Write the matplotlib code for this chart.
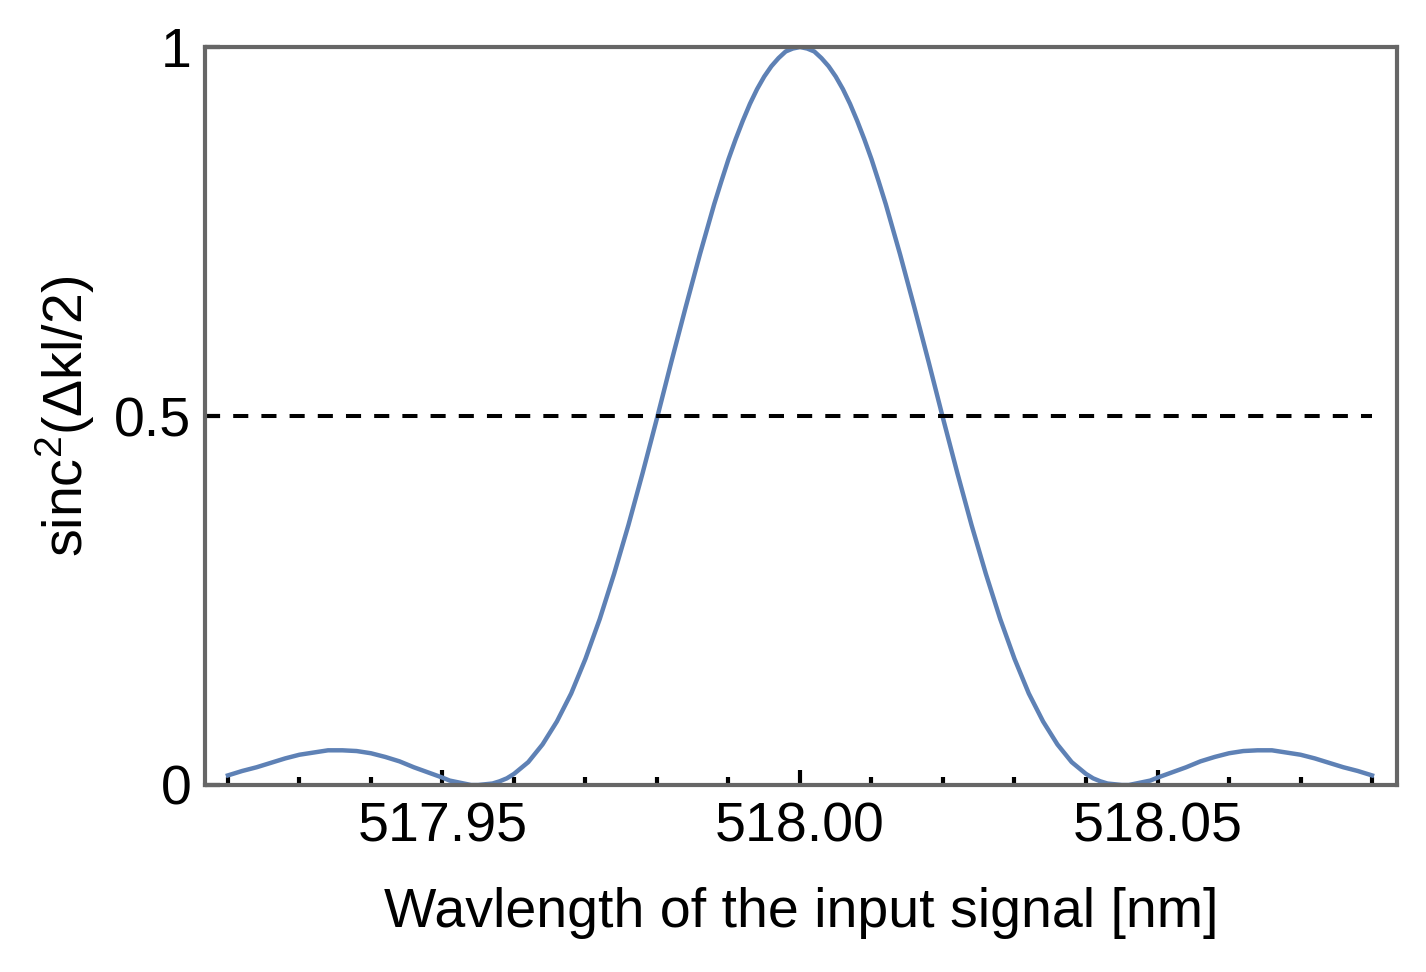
import matplotlib
matplotlib.use("Agg")
import matplotlib.pyplot as plt
from matplotlib.ticker import MultipleLocator

plt.rcParams['font.family'] = ['Liberation Sans', 'DejaVu Sans']
plt.rcParams['mathtext.default'] = 'regular'

# wavelength samples [nm] and curve values
wavelength = [517.920, 517.922, 517.924, 517.926, 517.928, 517.930, 517.932, 517.934,
              517.936, 517.938, 517.940, 517.942, 517.944, 517.946, 517.948, 517.950,
              517.951, 517.952, 517.953, 517.954, 517.955, 517.956, 517.957, 517.958,
              517.959, 517.960, 517.962, 517.964, 517.966, 517.968, 517.970, 517.972,
              517.974, 517.976, 517.978, 517.980, 517.982, 517.984, 517.986, 517.988,
              517.989, 517.990, 517.991, 517.992, 517.993, 517.994, 517.995, 517.996,
              517.997, 517.998, 517.999, 518.000,
              518.001, 518.002, 518.003, 518.004, 518.005, 518.006, 518.007, 518.008,
              518.009, 518.010, 518.011, 518.012, 518.014, 518.016, 518.018, 518.020,
              518.022, 518.024, 518.026, 518.028, 518.030, 518.032, 518.034, 518.036,
              518.038, 518.040, 518.041, 518.042, 518.043, 518.044, 518.045, 518.046,
              518.047, 518.048, 518.049, 518.050, 518.052, 518.054, 518.056, 518.058,
              518.060, 518.062, 518.064, 518.066, 518.068, 518.070, 518.072, 518.074,
              518.076, 518.078, 518.080]
sinc2 = [0.013, 0.019, 0.024, 0.030, 0.036, 0.041, 0.044, 0.047,
         0.047, 0.046, 0.043, 0.038, 0.032, 0.024, 0.017, 0.010,
         0.006, 0.004, 0.002, 0.000, 0.000, 0.001, 0.002, 0.005,
         0.009, 0.015, 0.031, 0.055, 0.086, 0.124, 0.171, 0.225,
         0.286, 0.352, 0.423, 0.497, 0.573, 0.647, 0.719, 0.787,
         0.818, 0.848, 0.875, 0.900, 0.923, 0.943, 0.960, 0.974,
         0.985, 0.994, 0.998, 1.000,
         0.998, 0.994, 0.985, 0.974, 0.960, 0.943, 0.923, 0.900,
         0.875, 0.848, 0.818, 0.787, 0.719, 0.647, 0.573, 0.497,
         0.423, 0.352, 0.286, 0.225, 0.171, 0.124, 0.086, 0.055,
         0.031, 0.015, 0.009, 0.005, 0.002, 0.001, 0.000, 0.000,
         0.002, 0.004, 0.006, 0.010, 0.017, 0.024, 0.032, 0.038,
         0.043, 0.046, 0.047, 0.047, 0.044, 0.041, 0.036, 0.030,
         0.024, 0.019, 0.013]
half_level = 0.5
x_ticks = [517.95, 518.00, 518.05]
x_labels = ["517.95", "518.00", "518.05"]
y_ticks = [0, 0.5, 1]
y_labels = ["0", "0.5", "1"]

fig = plt.figure(figsize=(14.26, 9.72), dpi=100)
ax = fig.add_axes([0.1438, 0.1924, 0.8359, 0.7592])

ax.plot(wavelength, sinc2, color="#5E81B5", lw=3.2, zorder=2)
ax.plot([517.9168, wavelength[-1]], [half_level, half_level], color="black",
        lw=2.9, dashes=(3.75, 3.25), zorder=3)

ax.set_xlim(517.9168, 518.0835)
ax.set_ylim(0, 1)

ax.set_xticks(x_ticks)
ax.set_xticklabels(x_labels)
ax.xaxis.set_minor_locator(MultipleLocator(0.01))
ax.set_yticks(y_ticks)
ax.set_yticklabels(y_labels)

ax.tick_params(axis="both", which="major", direction="in", length=10.8, width=3,
               color="black", labelsize=40, pad=10)
ax.tick_params(axis="x", which="minor", direction="in", length=5.8, width=3,
               color="black")
ax.tick_params(axis="x", which="major", pad=12)

for s in ax.spines.values():
    s.set_color("#666666")
    s.set_linewidth(3)
    s.set_zorder(4)

ax.set_xlabel("Wavlength of the input signal [nm]", fontsize=40, labelpad=24)
ax.set_ylabel("sinc$^2$(Δkl/2)", fontsize=40, labelpad=12)

fig.savefig("out.png", dpi=100)
